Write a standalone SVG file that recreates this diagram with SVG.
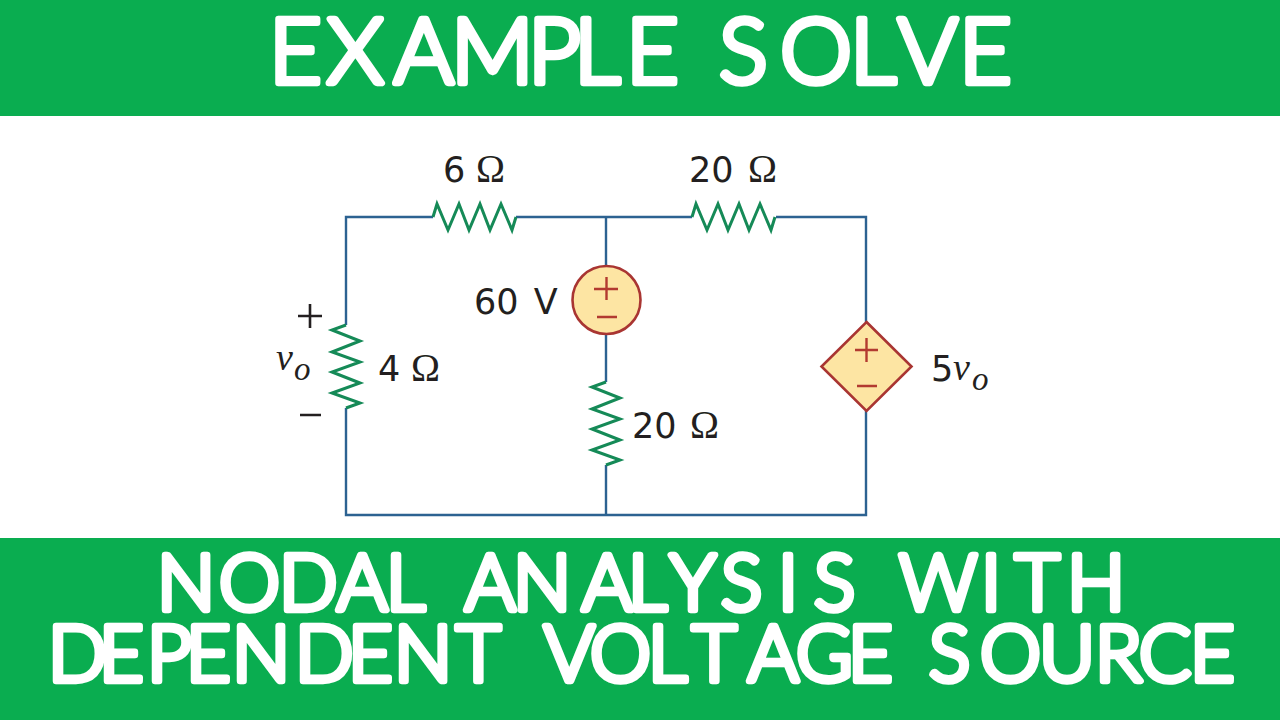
<svg xmlns="http://www.w3.org/2000/svg" width="1280" height="720" viewBox="0 0 1280 720">
<style>
.band{fill:#0aad50}
.title{font-family:"Lato","Open Sans",sans-serif;font-weight:300;fill:#fff;stroke:#fff;stroke-width:6.5;stroke-linejoin:round;stroke-linecap:round}
.lbl{font-family:"DejaVu Sans",Verdana,sans-serif;font-size:35px;fill:#231f20}
.om{font-family:"Liberation Serif","Times New Roman",serif;font-size:39px}
.var{font-family:"Liberation Serif","Times New Roman",serif;font-style:italic;font-size:38px;fill:#231f20}
.sub{font-family:"Liberation Serif","Times New Roman",serif;font-style:italic;font-size:33px;fill:#231f20}
.wire{fill:none;stroke:#2c6291;stroke-width:2.4}
.res{fill:none;stroke:#158a57;stroke-width:3;stroke-linejoin:miter}
.src{fill:#fde5a3;stroke:#a93532;stroke-width:2.6}
.sign{fill:none;stroke:#b23a30;stroke-width:2.4}
.mark{fill:none;stroke:#231f20;stroke-width:2.6}
</style>
<rect width="1280" height="720" fill="#fff"/>
<g id="banner-top"><rect class="band" x="0" y="0" width="1280" height="116"/>
<text class="title" y="83" font-size="91" x="269 327 394 451 528 574 626 680 719 780 850 898 959">EXAMPLE SOLVE</text></g>
<g id="banner-bottom"><rect class="band" x="0" y="538" width="1280" height="182"/>
<text class="title" y="610" font-size="77" x="157 219 279 337 386 440 465 513 582 628 670 721 778 814 860 899 981 1015 1067">NODAL ANALYSIS WITH</text>
<text class="title" y="681" font-size="77" x="48 99 147 186 232 295 348 394 456 520 544 590 648 692 748 796 848 910 929 980 1039 1095 1139 1190">DEPENDENT VOLTAGE SOURCE</text></g>
<g id="connectors">
<path class="wire" d="M433 217H346V325M346 408V515H866V411M866 322V217H776M692 217H516"/>
<path class="wire" d="M606 217V267M606 334V382M606 465V515"/>
</g>
<g id="r-6"><path class="res" d="M433 217L437 204L448 230L459 204L469 230L480 204L490 230L501 204L512 230L516 217"/><text class="lbl" x="443" y="182">6<tspan class="om" x="476">Ω</tspan></text></g>
<g id="r-20-top"><path class="res" d="M692 217L696 204L707 230L718 204L728 230L739 204L749 230L760 204L771 230L775 217"/><text class="lbl" x="689" y="182">20<tspan class="om" x="748">Ω</tspan></text></g>
<g id="r-4"><path class="res" d="M346 325L332 330L360 341L332 352L360 362L332 372L360 383L332 393L360 403L346 408"/><text class="lbl" x="378" y="381">4<tspan class="om" x="411">Ω</tspan></text></g>
<g id="r-20-mid"><path class="res" d="M606 382L592 387L620 398L592 409L620 419L592 429L620 440L592 450L620 460L606 465"/><text class="lbl" x="632" y="438">20<tspan class="om" x="690">Ω</tspan></text></g>
<g id="v-60"><circle class="src" cx="606.5" cy="300" r="34"/><path class="sign" d="M594 289H618M606.5 277V300M597 317H617"/><text class="lbl" x="474" y="314">60 <tspan dx="4">V</tspan></text></g>
<g id="v-dep"><path class="src" d="M866.5 322L911.5 366.5L866.5 411L821.5 366.5Z"/><path class="sign" d="M855 350H878M866.5 338V362M857 386H877"/><text class="lbl" x="931" y="381">5</text><text class="var" x="953" y="380">v</text><text class="sub" x="972" y="390">o</text></g>
<g id="vo-label"><path class="mark" d="M298 316H322M310 304V328M300 415H321"/><text class="var" x="276" y="370">v</text><text class="sub" x="294" y="380">o</text></g>
</svg>
